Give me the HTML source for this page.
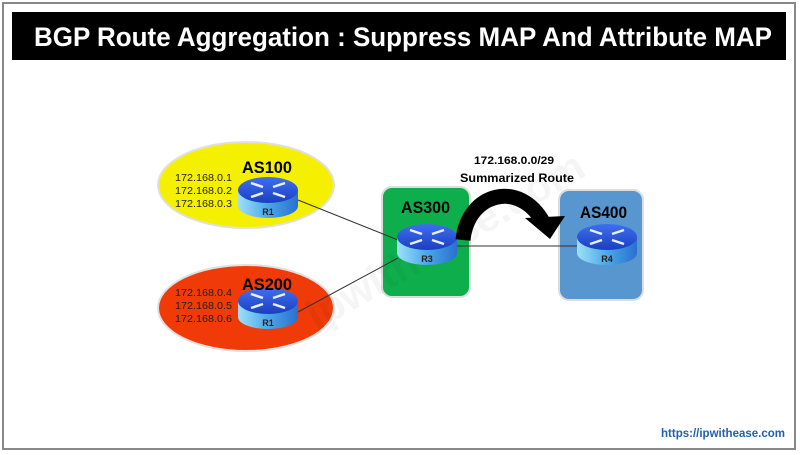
<!DOCTYPE html>
<html><head><style>
body{margin:0;background:#fff;}
svg{display:block;font-family:"Liberation Sans",sans-serif;}
</style></head><body>
<svg width="800" height="455" viewBox="0 0 800 455" xmlns="http://www.w3.org/2000/svg">
<defs>
<linearGradient id="rt" x1="0" y1="0" x2="0" y2="1"><stop offset="0" stop-color="#3f6ff0"/><stop offset="1" stop-color="#1a3fc0"/></linearGradient>
<linearGradient id="rs" x1="0" y1="0" x2="1" y2="0"><stop offset="0" stop-color="#9fe0f8"/><stop offset="0.5" stop-color="#4aa8e8"/><stop offset="1" stop-color="#2a6fd0"/></linearGradient>
<g id="router">
<path d="M0,13 L0,29 A30,12 0 0 0 60,29 L60,13 Z" fill="url(#rs)"/>
<ellipse cx="30" cy="13" rx="30" ry="13" fill="url(#rt)"/>
<g stroke="#e8f0ff" stroke-width="2.5" fill="none">
<line x1="13" y1="6" x2="25" y2="10"/><line x1="47" y1="6" x2="35" y2="10"/>
<line x1="13" y1="20" x2="25" y2="16"/><line x1="47" y1="20" x2="35" y2="16"/>
</g>
</g>
</defs>
<rect x="3" y="3" width="792" height="446" fill="#fff" stroke="#888" stroke-width="2"/>
<rect x="12" y="12" width="774" height="48" fill="#000"/>
<text x="34" y="46" fill="#fff" font-size="27" font-weight="bold" textLength="738" lengthAdjust="spacingAndGlyphs">BGP Route Aggregation : Suppress MAP And Attribute MAP</text>

<ellipse cx="246" cy="185" rx="88" ry="43" fill="#f5ef00" stroke="#e0e0e0" stroke-width="2"/>
<ellipse cx="246" cy="308" rx="88" ry="43" fill="#f03a08" stroke="#e0e0e0" stroke-width="2"/>
<rect x="382" y="187" width="88" height="110" rx="10" fill="#0fae4c" stroke="#ddd" stroke-width="2"/>
<rect x="559" y="190" width="84" height="110" rx="10" fill="#5796cf" stroke="#ddd" stroke-width="2"/>

<text x="445" y="255" text-anchor="middle" font-size="42" font-weight="bold" fill="#000" fill-opacity="0.04" transform="rotate(-30 445 240)">ipwithease.com</text>

<line x1="298" y1="200" x2="398" y2="240" stroke="#333" stroke-width="1"/>
<line x1="298" y1="312" x2="398" y2="258" stroke="#333" stroke-width="1"/>
<line x1="457" y1="246" x2="577" y2="246" stroke="#333" stroke-width="1"/>

<use href="#router" x="238" y="177"/>
<use href="#router" x="238" y="288"/>
<use href="#router" x="397" y="224"/>
<use href="#router" x="577" y="224"/>

<g font-size="17" font-weight="bold">
<text x="242" y="173" textLength="50" lengthAdjust="spacingAndGlyphs">AS100</text>
<text x="242" y="290" textLength="50" lengthAdjust="spacingAndGlyphs">AS200</text>
<text x="401" y="213" textLength="49" lengthAdjust="spacingAndGlyphs">AS300</text>
<text x="580" y="218" textLength="47" lengthAdjust="spacingAndGlyphs">AS400</text>
</g>
<g font-size="9" font-weight="bold" fill="#222" text-anchor="middle">
<text x="268" y="215">R1</text><text x="268" y="326">R1</text>
<text x="427" y="262">R3</text><text x="607" y="262">R4</text>
</g>
<g font-size="10" fill="#222">
<text x="175" y="181" textLength="57" lengthAdjust="spacingAndGlyphs">172.168.0.1</text><text x="175" y="194" textLength="57" lengthAdjust="spacingAndGlyphs">172.168.0.2</text><text x="175" y="207" textLength="57" lengthAdjust="spacingAndGlyphs">172.168.0.3</text>
<text x="175" y="296" textLength="57" lengthAdjust="spacingAndGlyphs">172.168.0.4</text><text x="175" y="309" textLength="57" lengthAdjust="spacingAndGlyphs">172.168.0.5</text><text x="175" y="322" textLength="57" lengthAdjust="spacingAndGlyphs">172.168.0.6</text>
</g>
<text x="474" y="164" font-size="11" font-weight="bold" textLength="80" lengthAdjust="spacingAndGlyphs">172.168.0.0/29</text>
<text x="460" y="182" font-size="12" font-weight="bold" textLength="114" lengthAdjust="spacingAndGlyphs">Summarized Route</text>

<path d="M463,240 C468,192 520,180 543,222" fill="none" stroke="#000" stroke-width="15"/>
<polygon points="525,218 565,216 550,239" fill="#000"/>

<text x="785" y="437" text-anchor="end" font-size="11.5" font-weight="bold" fill="#2060b0">https://ipwithease.com</text>
</svg>
</body></html>
